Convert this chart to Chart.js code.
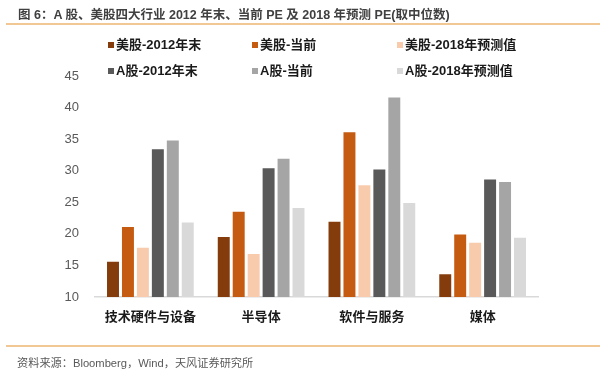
<!DOCTYPE html>
<html>
<head>
<meta charset="utf-8">
<script src="https://cdn.jsdelivr.net/npm/chart.js@4"></script>
<style>
  body { margin: 0; background: #fff; }
  #wrap { position: relative; width: 606px; height: 371px; overflow: hidden;
          font-family: "Liberation Sans", "Noto Sans CJK SC", sans-serif; }
  #wrap canvas { position: absolute; left: 0; top: 0; }
  .title { position: absolute; left: 18px; top: 4px; font-size: 12.5px; font-weight: bold; color: #404040;
           white-space: nowrap; }
  .rule { position: absolute; left: 6px; width: 594px; height: 1.5px; background: #f1c893; }
  .source { position: absolute; left: 17px; top: 354px; font-size: 11.2px; color: #595959; white-space: nowrap; }
  .leg { position: absolute; font-size: 13px; font-weight: bold; color: #1a1a1a; white-space: nowrap; line-height: 16px; }
  .leg i { position: absolute; left: -8px; top: 5px; width: 6px; height: 6px; }
</style>
</head>
<body>
<div id="wrap">
  <canvas id="barChart" width="606" height="371"></canvas>
  <div class="title">图 6：A 股、美股四大行业 2012 年末、当前 PE 及 2018 年预测 PE(取中位数)</div>
  <div class="rule" style="top:23px"></div>
  <div class="rule" style="top:345px"></div>
  <div class="source">资料来源：Bloomberg，Wind，天风证券研究所</div>
  <div id="legend"></div>
</div>
<script>
// industries on the x axis
const categories = ["技术硬件与设备", "半导体", "软件与服务", "媒体"];

// PE values
const us2012 = [15.6, 19.5, 21.9, 13.6];
const usNow = [21.1, 23.5, 36.1, 19.9];
const us2018 = [17.8, 16.8, 27.7, 18.6];
const a2012 = [33.4, 30.4, 30.2, 28.6];
const aNow = [34.8, 31.9, 41.6, 28.2];
const a2018 = [21.8, 24.1, 24.9, 19.4];

const seriesNames = ["美股-2012年末", "美股-当前", "美股-2018年预测值", "A股-2012年末", "A股-当前", "A股-2018年预测值"];
const seriesColors = ["#843c0c", "#c55a11", "#f8cbad", "#595959", "#a5a5a5", "#d9d9d9"];
const seriesValues = [us2012, usNow, us2018, a2012, aNow, a2018];

// legend: two rows of three, placed like the original
const legendX = [116, 260, 405];
const legendY = [37, 63];
const legend = document.getElementById("legend");
seriesNames.forEach((name, i) => {
  const div = document.createElement("div");
  div.className = "leg";
  div.style.left = legendX[i % 3] + "px";
  div.style.top = legendY[Math.floor(i / 3)] + "px";
  div.innerHTML = '<i style="background:' + seriesColors[i] + '"></i>' + name;
  legend.appendChild(div);
});

var ctx = document.getElementById("barChart").getContext("2d");
var barChart = new Chart(ctx, {
  type: "bar",
  data: {
    labels: categories,
    datasets: seriesNames.map((name, i) => ({
      label: name,
      data: seriesValues[i],
      backgroundColor: seriesColors[i],
      categoryPercentage: 0.81,
      barPercentage: 0.8,
    })),
  },
  options: {
    responsive: false,
    animation: false,
    layout: { padding: { top: 76, right: 68, bottom: 34, left: 0 } },
    plugins: {
      legend: { display: false },
      tooltip: { enabled: false },
    },
    scales: {
      x: {
        grid: { display: false, drawTicks: false },
        border: { color: "#d9d9d9", width: 1.5 },
        ticks: {
          padding: 13,
          color: "#1a1a1a",
          font: { family: "'Liberation Sans', 'Noto Sans CJK SC'", size: 13, weight: "bold" },
        },
        afterFit: (scale) => { scale.height = 40; },
      },
      y: {
        min: 10,
        max: 45,
        grid: { display: false, drawTicks: false },
        border: { display: false },
        ticks: {
          stepSize: 5,
          padding: 16,
          color: "#595959",
          font: { family: "'Liberation Sans', 'Noto Sans CJK SC'", size: 13 },
        },
        afterFit: (scale) => { scale.width = 95; },
      },
    },
  },
});
</script>
</body>
</html>
